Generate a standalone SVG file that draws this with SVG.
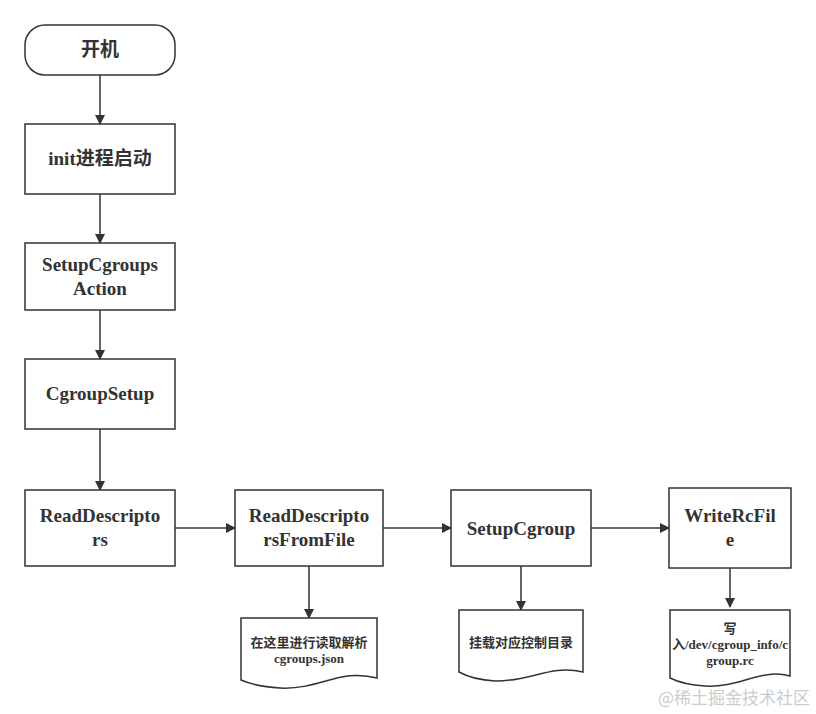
<svg xmlns="http://www.w3.org/2000/svg" width="816" height="714" viewBox="0 0 816 714">
<style>
.n{fill:#fff;stroke:#333;stroke-width:1.5}
.t{font-family:"Liberation Serif","Noto Sans CJK SC",serif;font-weight:bold;font-size:19px;fill:#333;text-anchor:middle}
.s{font-family:"Liberation Serif","Noto Sans CJK SC",serif;font-weight:bold;font-size:13px;fill:#333;text-anchor:middle}
.c{stroke:#333;stroke-width:1.5;fill:none;marker-end:url(#a)}
</style>
<defs><marker id="a" markerWidth="10" markerHeight="10" refX="9" refY="5" orient="auto" markerUnits="userSpaceOnUse"><path d="M0,0L10,5L0,10z" fill="#333"/></marker></defs>
<rect width="816" height="714" fill="#fff"/>
<g id="connectors">
<path class="c" d="M100,75V124"/>
<path class="c" d="M100,194V243"/>
<path class="c" d="M100,310V359"/>
<path class="c" d="M100,429V490"/>
<path class="c" d="M175,528H235"/>
<path class="c" d="M383,528H451"/>
<path class="c" d="M591,528H669"/>
<path class="c" d="M309,566V618"/>
<path class="c" d="M521,566V610"/>
<path class="c" d="M730,568V607"/>
</g>
<g id="n1"><rect class="n" x="25" y="25" width="150" height="50" rx="20"/><text class="t" x="100" y="56">开机</text></g>
<g id="n2"><rect class="n" x="25" y="124" width="150" height="70"/><text class="t" x="100" y="165">init进程启动</text></g>
<g id="n3"><rect class="n" x="25" y="243" width="150" height="67"/><text class="t" x="100" y="271">SetupCgroups</text><text class="t" x="100" y="295">Action</text></g>
<g id="n4"><rect class="n" x="25" y="359" width="150" height="70"/><text class="t" x="100" y="400">CgroupSetup</text></g>
<g id="n5"><rect class="n" x="25" y="490" width="150" height="76"/><text class="t" x="100" y="522">ReadDescripto</text><text class="t" x="100" y="546">rs</text></g>
<g id="n6"><rect class="n" x="235" y="490" width="148" height="76"/><text class="t" x="309" y="522">ReadDescripto</text><text class="t" x="309" y="546">rsFromFile</text></g>
<g id="n7"><rect class="n" x="451" y="490" width="140" height="76"/><text class="t" x="521" y="535">SetupCgroup</text></g>
<g id="n8"><rect class="n" x="669" y="488" width="122" height="80"/><text class="t" x="730" y="522">WriteRcFil</text><text class="t" x="730" y="546">e</text></g>
<g id="d1"><path class="n" d="M241,618H377V678C340,668 320,690 280,688C262,687 250,684 241,680Z"/><text class="s" x="309" y="647">在这里进行读取解析</text><text class="s" x="309" y="663">cgroups.json</text></g>
<g id="d2"><path class="n" d="M459,610H583V672C550,664 530,682 495,681C478,680 468,677 459,672Z"/><text class="s" x="521" y="647">挂载对应控制目录</text></g>
<g id="d3"><path class="n" d="M670,610H790V676C760,668 740,688 705,686C688,685 678,682 670,678Z"/><text class="s" x="730" y="633">写</text><text class="s" x="730" y="649">入/dev/cgroup_info/c</text><text class="s" x="730" y="665">group.rc</text></g>
<text x="810" y="704" font-family="'Noto Sans CJK SC',sans-serif" font-size="17" fill="#ccc" text-anchor="end">@稀土掘金技术社区</text>
</svg>
